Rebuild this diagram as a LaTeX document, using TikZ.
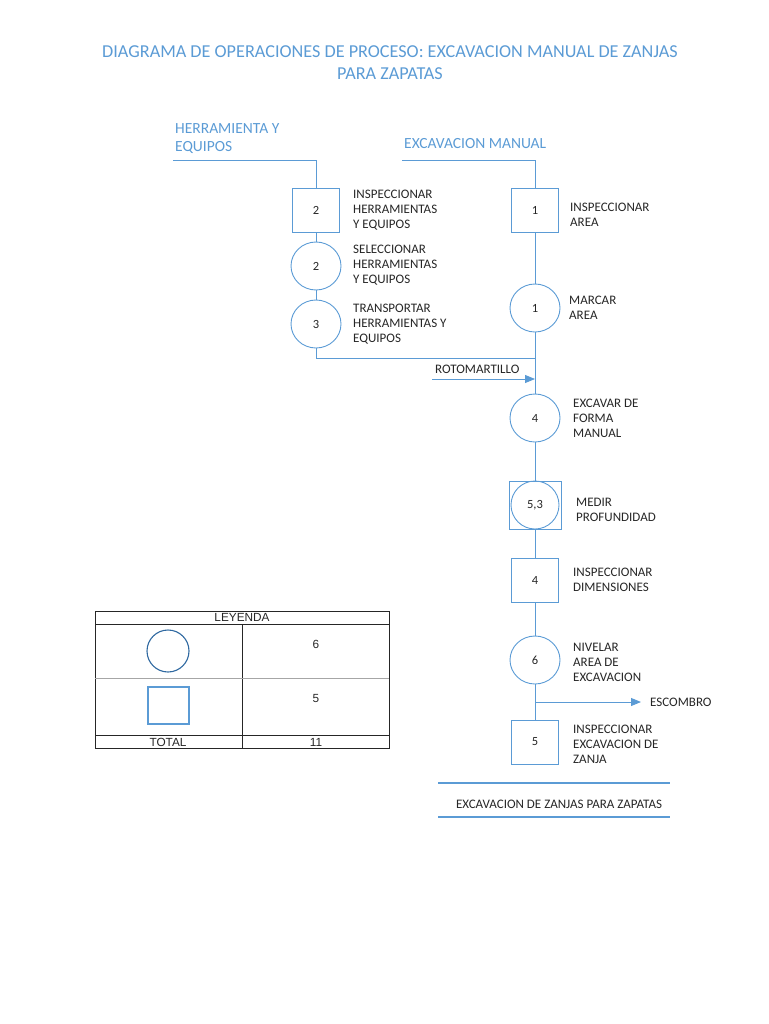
\documentclass[tikz,border=0pt]{standalone}
\usepackage{fontspec}
\setmainfont{Carlito}
\newfontfamily\arialfont{Liberation Sans}
\usetikzlibrary{arrows.meta,shapes.geometric,positioning}
\definecolor{flowblue}{RGB}{91,155,213}
\definecolor{legblue}{RGB}{46,104,160}
\definecolor{txtgray}{RGB}{38,38,38}

\begin{document}
\begin{tikzpicture}[x=1pt,y=-1pt,>={Triangle[length=10pt,width=8pt,color=flowblue,fill=flowblue]},
                    flow/.style={draw=flowblue,line width=0.9pt},
                    opcirc/.style={ellipse,draw=flowblue,line width=0.9pt,minimum width=50pt,
                      minimum height=48pt,inner sep=0pt,text=txtgray,font=\fontsize{12.5}{14}\selectfont},
                    insbox/.style={rectangle,draw=flowblue,line width=0.9pt,minimum width=47pt,
                      minimum height=44pt,inner sep=0pt,text=txtgray,font=\fontsize{12.5}{14}\selectfont},
                    desc/.style={anchor=west,align=left,inner sep=0pt,text=txtgray,
                      font=\fontsize{13}{15}\selectfont},
                    head/.style={anchor=west,align=left,inner sep=0pt,text=flowblue,
                      font=\fontsize{15.5}{18}\selectfont},
                    legtxt/.style={inner sep=0pt,text=txtgray,font=\arialfont\fontsize{11.8}{13}\selectfont}]

\useasboundingbox (0,0) rectangle (768,1024);

\node[align=center,text=flowblue,font=\fontsize{18.2}{22}\selectfont] (title) at(390,63)
  {DIAGRAMA DE OPERACIONES DE PROCESO: EXCAVACION MANUAL DE ZANJAS\\PARA ZAPATAS};

% entradas
\node[head] (hlab) at(175,139) {HERRAMIENTA Y\\EQUIPOS};
\node[head] (elab) at(404,144) {EXCAVACION MANUAL};
\coordinate (hin) at(173,160);
\coordinate (ein) at(402,160);

% columna herramientas
\node[insbox] (i2) at(316,210) {2};
\node[opcirc] (o2) at(316,266) {2};
\node[opcirc] (o3) at(316,324) {3};

% columna excavacion
\node[insbox] (i1) at(535,210) {1};
\node[opcirc] (o1) at(535,308) {1};
\coordinate (join) at(535,358);
\coordinate (rin) at(432,379);
\coordinate (rto) at(535,379);
\node[opcirc] (o4) at(535,418) {4};
\node[insbox,minimum width=52pt,minimum height=48pt] (c53) at(535,505) {};
\node[opcirc,minimum width=48pt] (o53) at(535,505) {5,3};
\node[insbox] (i4) at(535,580) {4};
\node[opcirc] (o6) at(535,660) {6};
\coordinate (esc) at(535,702);
\coordinate (escout) at(641,702);
\node[insbox] (i5) at(535,742) {5};

% textos
\node[desc] (dinsh) at(353,210) {INSPECCIONAR\\HERRAMIENTAS\\Y EQUIPOS};
\node[desc] (dsel) at(353,265) {SELECCIONAR\\HERRAMIENTAS\\Y EQUIPOS};
\node[desc] (dtra) at(353,324) {TRANSPORTAR\\HERRAMIENTAS Y\\EQUIPOS};
\node[desc] (dinsa) at(570,214.5) {INSPECCIONAR\\AREA};
\node[desc] (dmar) at(569,307.5) {MARCAR\\AREA};
\node[desc] (drot) at(435,369) {ROTOMARTILLO};
\node[desc] (dexc) at(573,418) {EXCAVAR DE\\FORMA\\MANUAL};
\node[desc] (dmed) at(576,509.5) {MEDIR\\PROFUNDIDAD};
\node[desc] (ddim) at(573,579.5) {INSPECCIONAR\\DIMENSIONES};
\node[desc] (dniv) at(573,662) {NIVELAR\\AREA DE\\EXCAVACION};
\node[desc] (desco) at(650,702) {ESCOMBRO};
\node[desc] (dzan) at(573,744) {INSPECCIONAR\\EXCAVACION DE\\ZANJA};

\draw[flow] (hin) -| (i2);
\draw[flow] (ein) -| (i1);
\draw[flow] (o3) |- (join);

\draw[flow]
(i2) edge (o2)
(o2) edge (o3)

(i1) edge (o1)
(o1) edge (o4)
(rin) edge[->] (rto)

(o4) edge (c53)
(c53) edge (i4)
(i4) edge (o6)
(o6) edge (i5)
(esc) edge[->] (escout)
;

% resultado
\coordinate (rl1) at(438,783);
\coordinate (rr1) at(670,783);
\coordinate (rl2) at(438,817);
\coordinate (rr2) at(670,817);
\draw[flowblue,line width=2pt] (rl1) -- (rr1) (rl2) -- (rr2);
\node[inner sep=0pt,text=txtgray,font=\fontsize{13}{15}\selectfont] (res) at(559,804)
  {EXCAVACION DE ZANJAS PARA ZAPATAS};

% leyenda
\draw[txtgray,line width=1pt] (95,611) rectangle (389,748);
\draw[txtgray,line width=0.9pt] (95,624) -- (389,624) (95,735) -- (389,735) (242,624) -- (242,748);
\draw[gray!70,line width=0.7pt] (95,678) -- (389,678);
\node[legtxt] (ley) at(242,617.5) {LEYENDA};
\draw[legblue,line width=1.1pt] (168,651) circle (21pt);
\draw[flowblue,line width=1.1pt] (148,687) rectangle (189,724);
\node[legtxt] (ncirc) at(316,644) {6};
\node[legtxt] (nbox) at(316,698) {5};
\node[legtxt] (tot) at(168,742) {TOTAL};
\node[legtxt] (ntot) at(316,742) {11};

\end{tikzpicture}
\end{document}
